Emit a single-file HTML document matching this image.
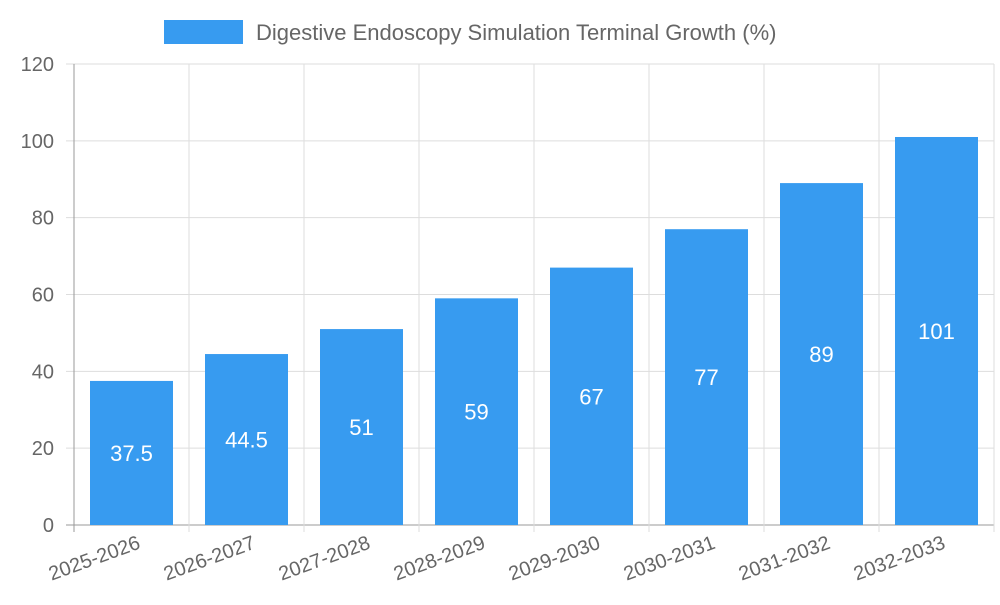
<!DOCTYPE html>
<html><head><meta charset="utf-8"><style>body{margin:0;background:#fff}svg{font-family:"Liberation Sans",sans-serif}</style></head>
<body>
<svg id="c" width="1000" height="600"></svg>
<script>
const categories=["2025-2026","2026-2027","2027-2028","2028-2029","2029-2030","2030-2031","2031-2032","2032-2033"];
const values=[37.5,44.5,51,59,67,77,89,101];
const yTicks=[0,20,40,60,80,100,120];
const svg=document.getElementById('c');const NS='http://www.w3.org/2000/svg';
const L=74,R=994,T=64,B=525,yMax=120;
const y=v=>B-(v/yMax)*(B-T);
const bw=(R-L)/categories.length;
const x=i=>L+i*bw;
function mk(t,a,p){const e=document.createElementNS(NS,t);for(const k in a)e.setAttribute(k,a[k]);(p||svg).appendChild(e);return e;}
const g=mk('g',{});


yTicks.forEach(v=>{mk('line',{x1:66,x2:R,y1:y(v),y2:y(v),stroke:v===0?'#999':'#ddd','stroke-width':1},g);
const t=mk('text',{x:54,y:y(v)+7,'text-anchor':'end','font-size':20,fill:'#666'});t.textContent=v;

});
for(let i=0;i<=categories.length;i++){mk('line',{x1:x(i),x2:x(i),y1:T,y2:532,stroke:i===0?'#999':'#ddd','stroke-width':1},g);}
categories.forEach((c,i)=>{const v=values[i];const cx=x(i)+bw/2;
const r=mk('rect',{x:cx-41.5,y:y(v),width:83,height:B-y(v),fill:'#379bf0'});


const vt=mk('text',{x:cx,y:(y(v)+B)/2+8,'text-anchor':'middle','font-size':22,fill:'#fff'});vt.textContent=v;


const lt=mk('text',{x:cx+10,y:548,'text-anchor':'end','font-size':20,fill:'#666',transform:`rotate(-20 ${cx+10} 548)`});lt.textContent=c;

});
const lg=mk('g',{});


mk('rect',{x:164,y:20,width:79,height:24,fill:'#379bf0'},lg);
const tt=mk('text',{x:256,y:40,'font-size':22,fill:'#666'},lg);tt.textContent='Digestive Endoscopy Simulation Terminal Growth (%)';
</script>
</body></html>
